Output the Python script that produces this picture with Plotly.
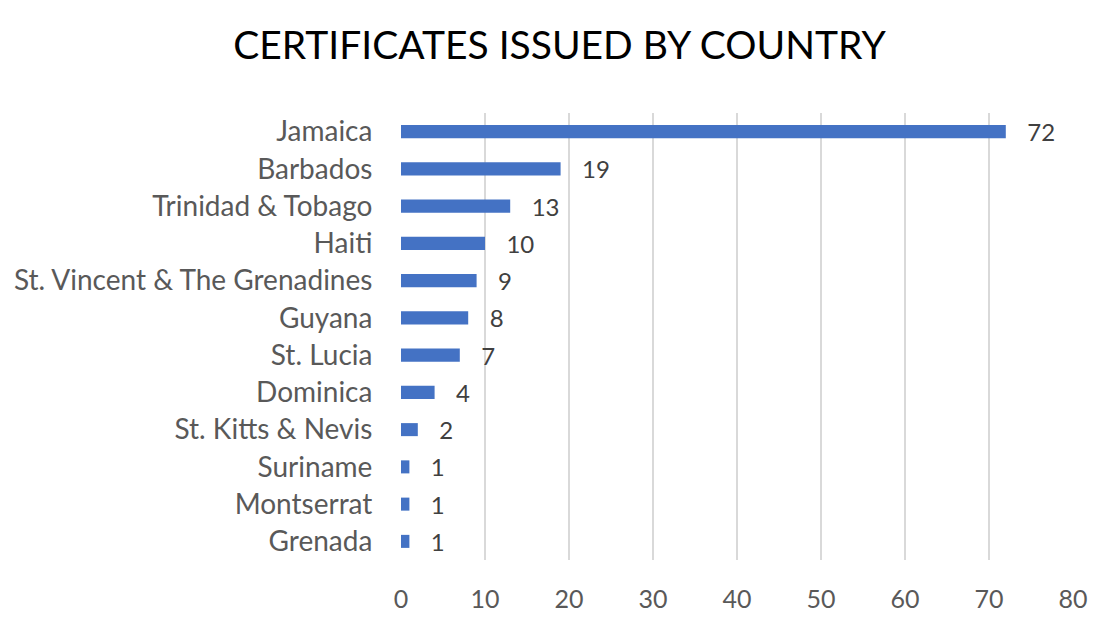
import plotly.graph_objects as go

countries = ["Jamaica", "Barbados", "Trinidad & Tobago", "Haiti",
             "St. Vincent & The Grenadines", "Guyana", "St. Lucia", "Dominica",
             "St. Kitts & Nevis", "Suriname", "Montserrat", "Grenada"]
certificates = [72, 19, 13, 10, 9, 8, 7, 4, 2, 1, 1, 1]
x_ticks = [0, 10, 20, 30, 40, 50, 60, 70, 80]

font_family = "Lato, 'Open Sans', sans-serif"
text_color = "#595959"

fig = go.Figure(go.Bar(
    x=certificates,
    y=countries,
    orientation="h",
    marker=dict(color="#4472C4", line=dict(width=0)),
    text=[f"\u00a0\u00a0\u00a0{v}" for v in certificates],
    textposition="outside",
    constraintext="none",
    textfont=dict(size=24, color="#404040", family=font_family),
    cliponaxis=False,
))

fig.update_layout(
    width=1119, height=621,
    margin=dict(l=401, r=46, t=113, b=61),
    paper_bgcolor="white", plot_bgcolor="white",
    bargap=0.65,
    showlegend=False,
    uniformtext=dict(mode=False),
    title=dict(text="CERTIFICATES ISSUED BY COUNTRY", x=0.5, xanchor="center",
               y=0.927, yanchor="middle", xref="container",
               font=dict(size=39, color="#000000", family=font_family)),
    xaxis=dict(range=[0, 80], tickvals=x_ticks, showgrid=True, gridcolor="#d9d9d9",
               gridwidth=1.5, zeroline=False, showline=False, automargin=False,
               ticks="outside", ticklen=17, tickcolor="rgba(0,0,0,0)",
               tickfont=dict(size=25, color=text_color, family=font_family)),
    yaxis=dict(categoryorder="array", categoryarray=countries, autorange="reversed",
               showgrid=False, zeroline=False, showline=False, automargin=False,
               ticks="outside", ticklen=22, tickcolor="rgba(0,0,0,0)",
               tickfont=dict(size=28, color=text_color, family=font_family)),
)

fig.write_html("out.html")
